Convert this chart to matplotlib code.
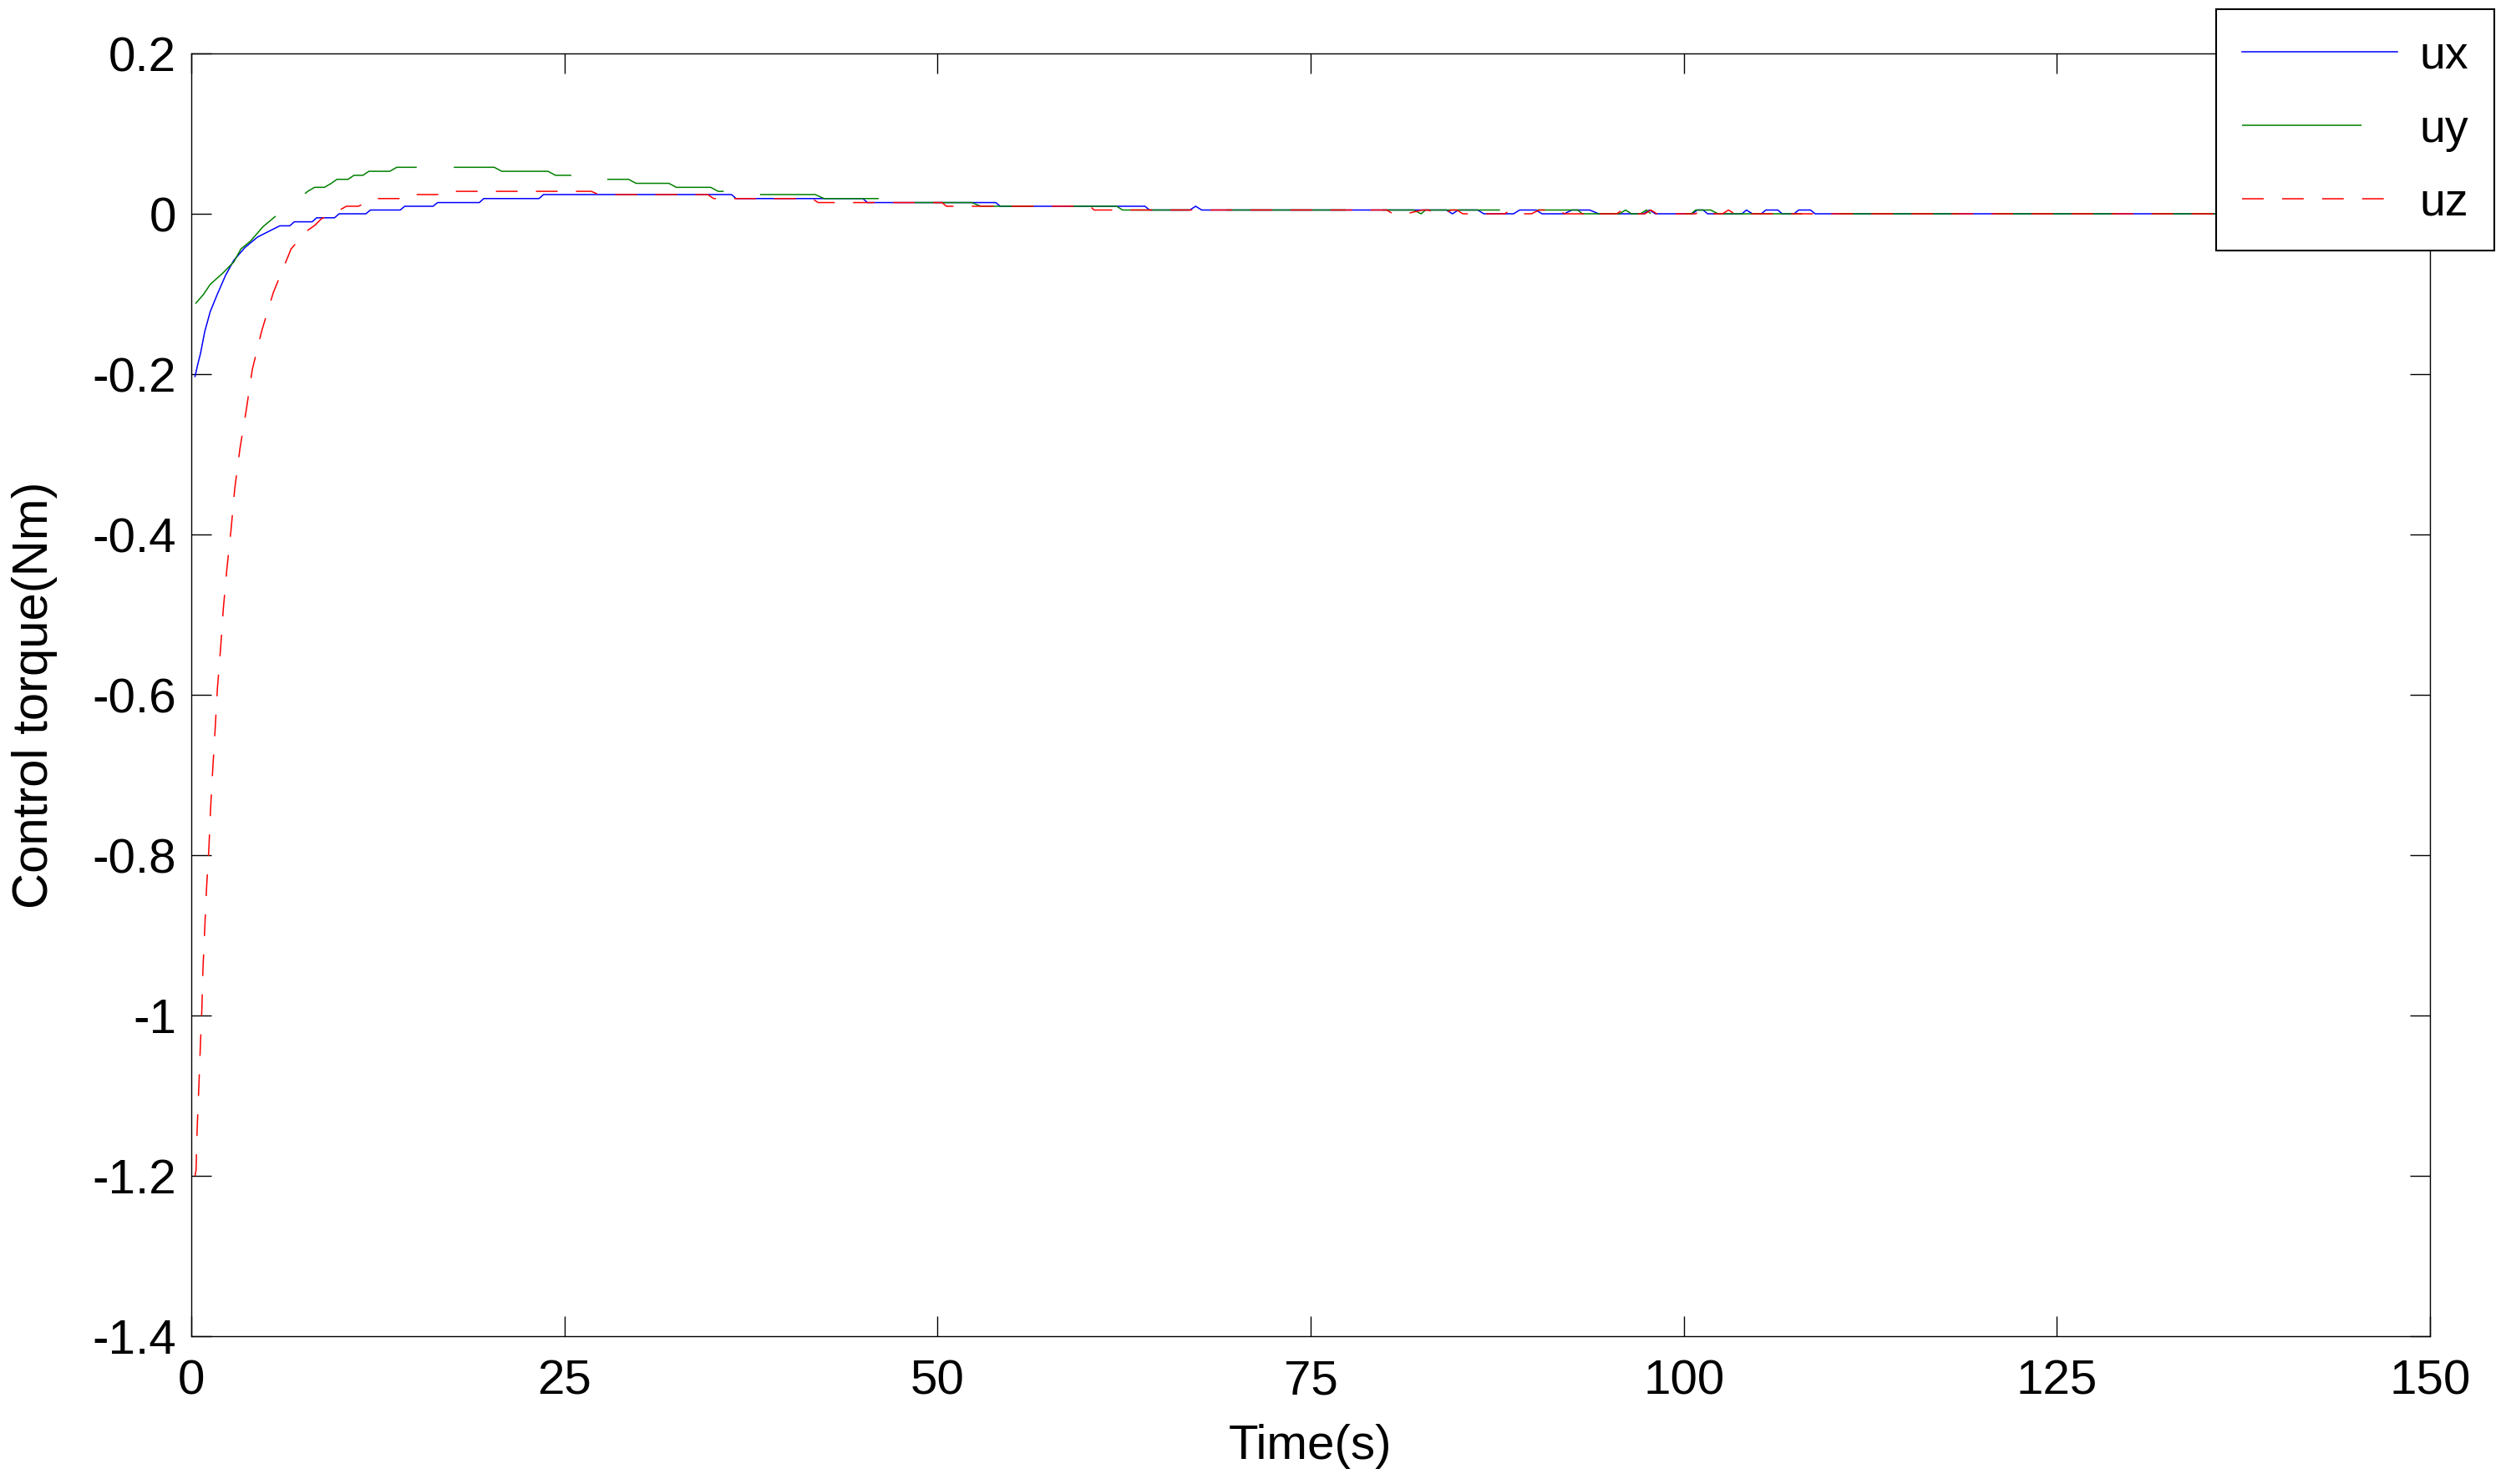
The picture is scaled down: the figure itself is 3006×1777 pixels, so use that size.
import matplotlib
matplotlib.use("Agg")
import matplotlib.pyplot as plt

# figure setup (MATLAB-like look)
plt.rcParams['font.family'] = ['Liberation Sans', 'DejaVu Sans']
plt.rcParams['axes.unicode_minus'] = False
plt.rcParams['lines.scale_dashes'] = False

# levels the signals settle onto (the curves are quantised)
H = 0.0047

# ux (blue, solid)
ux_t = [0.25, 0.43, 0.62, 0.9, 1.27, 1.73, 2.29, 2.85, 3.6, 4.44, 5.93, 6.6, 6.9, 8.1, 8.4,
        9.6, 9.9, 11.7, 12.0, 14.0, 14.3, 16.2, 16.5, 19.3, 19.6, 23.3, 23.6, 36.2, 36.5,
        45.0, 45.3, 53.9, 54.2, 63.9, 64.2, 66.9, 67.3, 67.7, 84.1, 84.5, 84.9, 86.2, 86.6,
        88.6, 89.0, 90.1, 90.5, 92.0, 92.5, 93.7, 94.3, 97.3, 97.7, 98.1, 100.6, 100.9,
        101.3, 101.6, 103.9, 104.2, 104.6, 105.2, 105.5, 106.3, 106.6, 107.4, 107.7, 108.5,
        108.8, 150.0]
ux_v = [-0.203, -0.188, -0.174, -0.147, -0.122, -0.101, -0.077, -0.058, -0.042, -0.029, -0.015,
        -0.015, -0.010, -0.010, -0.005, -0.005, 0.0, 0.0, 0.0047, 0.0047, 0.0094, 0.0094, 0.014,
        0.014, 0.019, 0.019, 0.024, 0.024, 0.019, 0.019, 0.014, 0.014, 0.0094, 0.0094, H, H,
        0.0094, H, H, 0.0, H, H, 0.0, 0.0, H, H, 0.0, 0.0, H, H, 0.0, 0.0, H, 0.0, 0.0, H, H,
        0.0, 0.0, H, 0.0, 0.0, H, H, 0.0, 0.0, H, H, 0.0, 0.0]

# uy (green, long dashes)
uy_t = [0.28, 0.8, 1.27, 2.11, 2.85, 3.32, 3.97, 4.81, 5.71, 6.5, 7.3, 7.8, 8.26, 8.92, 9.38,
        9.76, 10.5, 10.9, 11.5, 11.9, 13.3, 13.77, 20.3, 20.8, 23.9, 24.4, 27.3, 27.7, 29.3,
        29.8, 32.0, 32.5, 34.8, 35.3, 37.6, 38.0, 41.8, 42.4, 46.3, 46.8, 52.3, 52.9, 62.0,
        62.4, 81.9, 82.4, 82.7, 92.9, 93.2, 95.7, 96.1, 96.5, 97.1, 97.5, 97.8, 98.0, 98.7,
        99.1, 100.5, 100.8, 101.8, 102.3, 150.0]
uy_v = [-0.112, -0.101, -0.088, -0.074, -0.060, -0.044, -0.034, -0.016, -0.002, 0.010, 0.020,
        0.028, 0.033, 0.033, 0.038, 0.043, 0.043, 0.048, 0.048, 0.053, 0.053, 0.058, 0.058,
        0.053, 0.053, 0.048, 0.048, 0.043, 0.043, 0.038, 0.038, 0.033, 0.033, 0.028, 0.028,
        0.024, 0.024, 0.019, 0.019, 0.014, 0.014, 0.0094, 0.0094, H, H, 0.0, H, H, 0.0, 0.0,
        H, 0.0, 0.0, H, 0.0, H, H, 0.0, 0.0, H, H, 0.0, 0.0]

# uz (red, dashed)
uz_t = [0.25, 0.32, 0.39, 0.5, 0.6, 0.71, 0.78, 0.9, 1.02, 1.18, 1.29, 1.44, 1.6, 1.75, 1.96,
        2.14, 2.39, 2.67, 2.91, 3.26, 3.69, 4.09, 4.72, 5.5, 6.51, 6.68, 7.7, 8.3, 8.73, 9.4,
        9.94, 10.4, 11.2, 11.7, 12.1, 14.1, 14.5, 17.3, 17.7, 26.8, 27.3, 34.6, 35.0, 41.6,
        42.0, 50.3, 50.6, 60.2, 60.5, 80.1, 80.5, 81.4, 82.5, 82.9, 83.4, 84.0, 84.4, 84.8,
        85.2, 86.5, 88.0, 88.4, 88.8, 89.8, 90.3, 91.6, 92.0, 93.5, 93.9, 94.3, 95.5, 95.9,
        96.3, 97.4, 97.8, 98.2, 100.8, 101.2, 101.6, 102.6, 103.0, 103.4, 150.0]
uz_v = [-1.2, -1.193, -1.143, -1.092, -1.042, -0.991, -0.943, -0.892, -0.842, -0.791, -0.743,
        -0.692, -0.642, -0.592, -0.543, -0.494, -0.442, -0.393, -0.343, -0.293, -0.244, -0.194,
        -0.146, -0.098, -0.052, -0.044, -0.022, -0.014, -0.006, -0.001, 0.0047, 0.0094, 0.0094,
        0.014, 0.019, 0.019, 0.024, 0.024, 0.028, 0.028, 0.024, 0.024, 0.019, 0.019, 0.014,
        0.014, 0.0094, 0.0094, H, H, 0.0, 0.0, H, H, 0.0, 0.0, H, H, 0.0, 0.0, 0.0, H, 0.0,
        0.0, H, H, 0.0, 0.0, H, 0.0, 0.0, H, 0.0, 0.0, H, 0.0, 0.0, H, 0.0, 0.0, H, 0.0, 0.0]

series_names = ['ux', 'uy', 'uz']

x_ticks = [0, 25, 50, 75, 100, 125, 150]
y_ticks = [-1.4, -1.2, -1.0, -0.8, -0.6, -0.4, -0.2, 0.0, 0.2]
y_tick_labels = ['-1.4', '-1.2', '-1', '-0.8', '-0.6', '-0.4', '-0.2', '0', '0.2']

fig = plt.figure(figsize=(30.06, 17.77), dpi=100)
W, Hpx = 3006, 1777
ax = fig.add_axes([229 / W, 1 - 1600 / Hpx, 2680 / W, 1536 / Hpx])

lw = 1.1
ax.plot(ux_t, ux_v, color='#0000ff', lw=lw, label=series_names[0])
ax.plot(uy_t, uy_v, color='#008000', lw=lw, dashes=(103, 32), label=series_names[1])
ax.plot(uz_t, uz_v, color='#ff0000', lw=lw, dashes=(18.7, 15.8), label=series_names[2])

ax.set_xlim(0, 150)
ax.set_ylim(-1.4, 0.2)
ax.set_xticks(x_ticks)
ax.set_yticks(y_ticks)
ax.set_yticklabels(y_tick_labels)

ax.tick_params(direction='in', length=17, width=1.0, top=True, right=True,
               labelsize=42)
ax.tick_params(axis='x', pad=20)
ax.tick_params(axis='y', pad=13)
for s in ax.spines.values():
    s.set_linewidth(1.0)

ax.set_xlabel('Time(s)', fontsize=42, labelpad=17)
ax.set_ylabel('Control torque(Nm)', fontsize=43, labelpad=30)

leg = ax.legend(loc='upper left', bbox_to_anchor=(2653 / W, 1 - 11 / Hpx),
                bbox_transform=fig.transFigure, borderaxespad=0, fontsize=40,
                fancybox=False, edgecolor='black', framealpha=1, borderpad=0.55,
                handlelength=3.36, handletextpad=0.47, labelspacing=0.65)
leg.get_frame().set_linewidth(1.5)

fig.savefig('out.png', dpi=100, facecolor='white')
